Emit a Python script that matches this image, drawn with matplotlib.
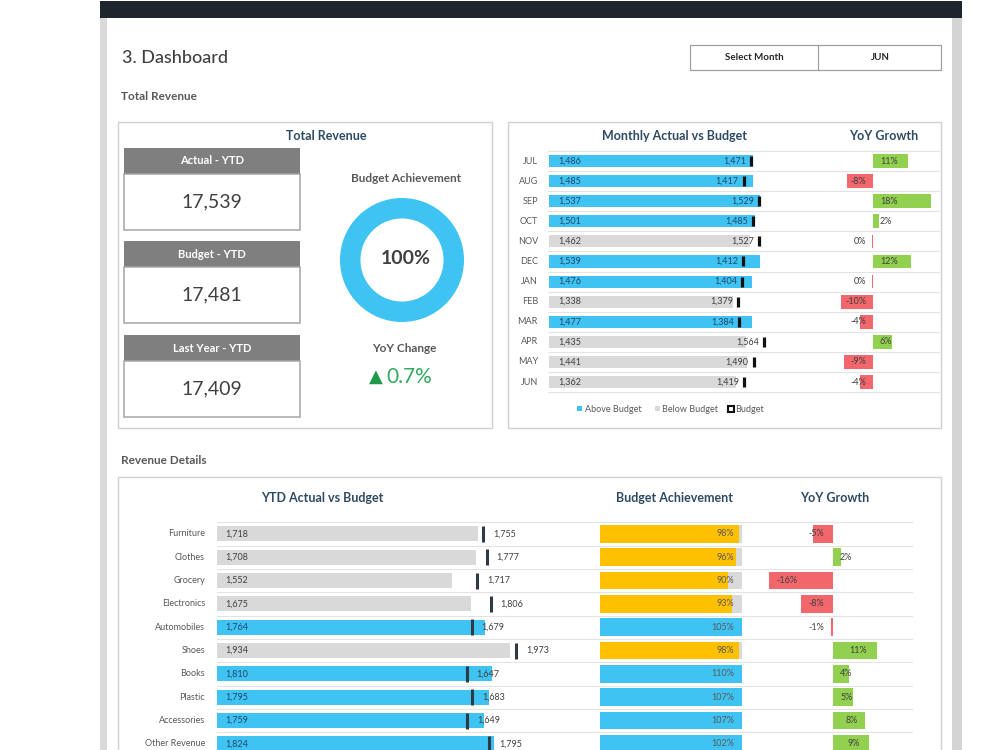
import matplotlib
matplotlib.use('Agg')
import matplotlib.pyplot as plt
from matplotlib.patches import Rectangle

plt.rcParams['font.family'] = ['Lato', 'DejaVu Sans']

# ---------------- data ----------------
select_month = 'JUN'
actual_ytd = 17539
budget_ytd = 17481
last_year_ytd = 17409

months = ['JUL', 'AUG', 'SEP', 'OCT', 'NOV', 'DEC', 'JAN', 'FEB', 'MAR', 'APR', 'MAY', 'JUN']
month_actual = [1486, 1485, 1537, 1501, 1462, 1539, 1476, 1338, 1477, 1435, 1441, 1362]
month_budget = [1471, 1417, 1529, 1485, 1527, 1412, 1404, 1379, 1384, 1564, 1490, 1419]
month_yoy = [11, -8, 18, 2, 0, 12, 0, -10, -4, 6, -9, -4]

categories = ['Furniture', 'Clothes', 'Grocery', 'Electronics', 'Automobiles', 'Shoes',
              'Books', 'Plastic', 'Accessories', 'Other Revenue']
cat_actual = [1718, 1708, 1552, 1675, 1764, 1934, 1810, 1795, 1759, 1824]
cat_budget = [1755, 1777, 1717, 1806, 1679, 1973, 1647, 1683, 1649, 1795]
cat_yoy = [-5, 2, -16, -8, -1, 11, 4, 5, 8, 9]

# ---------------- style ----------------
BLUE = '#3EC3F2'
GRAY = '#D9D9D9'
YELLOW = '#FFC000'
GREEN = '#92D050'
RED = '#F2676C'
NAVY = '#2D4A63'
DGRAY = '#404040'
MGRAY = '#595959'
GRID = '#E3E3E3'
BORDER = '#D0D0D0'

W, H = 1000, 750
fig = plt.figure(figsize=(10, 7.5), dpi=100)
fig.patch.set_facecolor('white')
bg = fig.add_axes([0, 0, 1, 1])
bg.set_xlim(0, W)
bg.set_ylim(H, 0)
bg.axis('off')


def rect(x0, y0, x1, y1, fc='none', ec='none', lw=0.0, z=1):
    bg.add_patch(Rectangle((x0, y0), x1 - x0, y1 - y0, facecolor=fc,
                           edgecolor=ec, linewidth=lw, zorder=z))


def txt(x, y, s, size=7, color=DGRAY, weight='normal', ha='left', va='center', z=5, **kw):
    bg.text(x, y, s, fontsize=size, color=color, fontweight=weight,
            ha=ha, va=va, zorder=z, **kw)


def px_axes(x0, y0, x1, y1):
    ax = fig.add_axes([x0 / W, 1 - y1 / H, (x1 - x0) / W, (y1 - y0) / H])
    ax.axis('off')
    ax.patch.set_alpha(0)
    return ax


# ---------------- page frame ----------------
rect(100, 0, 962, 750, fc='white', z=0)
rect(100, 1, 962, 18, fc='#1E252E', z=1)
rect(100, 18, 107, 750, fc='#D9D9D9', z=1)
rect(952, 18, 962, 750, fc='#D4D4D4', z=1)

txt(122, 58, '3. Dashboard', size=13, color=DGRAY, weight='medium')
txt(121, 97, 'Total Revenue', size=8.5, color=MGRAY, weight='bold')
txt(121, 460, 'Revenue Details', size=8.5, color=MGRAY, weight='bold')

# select month box
rect(690, 45, 941, 70, fc='white', ec='#A0A0A0', lw=0.9, z=2)
bg.plot([818, 818], [45, 70], color='#A0A0A0', lw=0.9, zorder=3)
txt(754, 58, 'Select Month', size=7, color='#262626', weight='bold', ha='center')
txt(880, 58, select_month, size=7, color='#262626', weight='bold', ha='center')

# panels
rect(118, 122, 492, 428, fc='white', ec=BORDER, lw=1.0, z=1)
rect(508, 122, 941, 428, fc='white', ec=BORDER, lw=1.0, z=1)
rect(118, 477, 941, 760, fc='white', ec=BORDER, lw=1.0, z=1)

# ---------------- KPI cards ----------------
txt(326, 136, 'Total Revenue', size=9, color=NAVY, weight='bold', ha='center')
cards = [('Actual - YTD', actual_ytd, 148), ('Budget - YTD', budget_ytd, 241),
         ('Last Year - YTD', last_year_ytd, 335)]
for title, val, y0 in cards:
    rect(124, y0, 300, y0 + 26, fc='#7F7F7F', z=2)
    rect(124, y0 + 26, 300, y0 + 82, fc='white', ec='#A6A6A6', lw=1.1, z=2)
    txt(212, y0 + 13, title, size=8, color='white', weight='bold', ha='center')
    txt(212, y0 + 54, f'{val:,}', size=14, color=DGRAY, ha='center')

# donut
achv = actual_ytd / budget_ytd * 100
txt(406, 179, 'Budget Achievement', size=8.5, color=MGRAY, weight='bold', ha='center')
dax = px_axes(340, 198, 464, 322)
filled = min(achv, 100)
dax.pie([filled, 100 - filled], colors=[BLUE, '#EDEDED'], startangle=90, counterclock=False,
        radius=1.0, wedgeprops=dict(width=0.33, edgecolor='none'))
dax.set_xlim(-1, 1)
dax.set_ylim(-1, 1)
dax.set_aspect('equal')
txt(406, 259, f'{achv:.0f}%', size=14, color=DGRAY, weight='bold', ha='center')

yoy_total = (actual_ytd - last_year_ytd) / last_year_ytd * 100
txt(404, 349, 'YoY Change', size=8.5, color=MGRAY, weight='bold', ha='center')
txt(383, 377, '▲' if yoy_total >= 0 else '▼', size=13, color='#1E9B48', ha='right',
    family='DejaVu Sans')
txt(386, 377, f'{abs(yoy_total):.1f}%', size=15, color='#2FAA5F', ha='left')

# ---------------- monthly chart ----------------
n = len(months)
row_top, row_h = 151, 20.09
for k in range(n + 1):
    y = row_top + k * row_h
    bg.plot([548, 939], [y, y], color=GRID, lw=0.8, zorder=2)

txt(675, 136, 'Monthly Actual vs Budget', size=9, color=NAVY, weight='bold', ha='center')
txt(884, 136, 'YoY Growth', size=9, color=NAVY, weight='bold', ha='center')

mx0, mscale = 549, 0.1373
max_ = px_axes(mx0, row_top, 790, row_top + n * row_h)
max_.set_xlim(0, (790 - mx0) / mscale)
max_.set_ylim(n - 0.5, -0.5)
for i, (m, a, b) in enumerate(zip(months, month_actual, month_budget)):
    above = a >= b
    max_.barh(i, a, height=0.6, color=BLUE if above else GRAY, zorder=2)
    max_.plot([b], [i], marker='|', markersize=7.5, mew=2.3, color='#111111', zorder=4)
    lc = '#24466A' if above else DGRAY
    max_.annotate(f'{a:,}', xy=(0, i), xytext=(6.5, 0), textcoords='offset points',
                  ha='left', va='center', fontsize=6.5, color=lc, zorder=5)
    max_.annotate(f'{b:,}', xy=(b, i), xytext=(-3.5, 0), textcoords='offset points',
                  ha='right', va='center', fontsize=6.5, color=lc, zorder=5)
    max_.text(-11 / mscale, i, m, ha='right', va='center', fontsize=6.5, color=MGRAY,
              clip_on=False)

# monthly YoY
yx0, yscale = 873, 3.2
yax = px_axes(820, row_top, 940, row_top + n * row_h)
yax.set_xlim((820 - yx0) / yscale, (940 - yx0) / yscale)
yax.set_ylim(n - 0.5, -0.5)
for i, v in enumerate(month_yoy):
    col = GREEN if v > 0 else RED
    w = v if v != 0 else -0.3
    yax.barh(i, w, height=0.68, color=col, zorder=2)
    if v > 0:
        yax.annotate(f'{v}%', xy=(0, i), xytext=(5, 0), textcoords='offset points',
                     ha='left', va='center', fontsize=6.5, color=DGRAY, zorder=5)
    else:
        yax.annotate(f'{v}%', xy=(0, i), xytext=(-5, 0), textcoords='offset points',
                     ha='right', va='center', fontsize=6.5, color=DGRAY, zorder=5)

# legend
rect(577, 406, 582, 411, fc=BLUE, z=3)
txt(585, 409, 'Above Budget', size=6.5, color=MGRAY)
rect(655, 406, 660, 411, fc=GRAY, z=3)
txt(662, 409, 'Below Budget', size=6.5, color=MGRAY)
rect(727.5, 405.5, 733.5, 411.5, fc='white', ec='#111111', lw=1.5, z=3)
txt(735, 409, 'Budget', size=6.5, color=MGRAY)

# ---------------- bottom section ----------------
nc = len(categories)
brow_top, brow_h = 522.3, 23.33
for k in range(nc + 1):
    y = brow_top + k * brow_h
    bg.plot([217, 912], [y, y], color=GRID, lw=0.8, zorder=2)

txt(322, 498, 'YTD Actual vs Budget', size=9, color=NAVY, weight='bold', ha='center')
txt(674, 498, 'Budget Achievement', size=9, color=NAVY, weight='bold', ha='center')
txt(835, 498, 'YoY Growth', size=9, color=NAVY, weight='bold', ha='center')

bx0, bscale = 217, 0.1517
bax = px_axes(bx0, brow_top, 560, brow_top + nc * brow_h)
bax.set_xlim(0, (560 - bx0) / bscale)
bax.set_ylim(nc - 0.5, -0.5)
for i, (c, a, b) in enumerate(zip(categories, cat_actual, cat_budget)):
    above = a >= b
    bax.barh(i, a, height=0.64, color=BLUE if above else GRAY, zorder=2)
    bax.plot([b], [i], marker='|', markersize=11, mew=2.2, color='#2E3A46', zorder=4)
    lc = '#24466A' if above else DGRAY
    bax.annotate(f'{a:,}', xy=(0, i), xytext=(6, 0), textcoords='offset points',
                 ha='left', va='center', fontsize=6.5, color=lc, zorder=5)
    bax.annotate(f'{b:,}', xy=(b, i), xytext=(7, 0), textcoords='offset points',
                 ha='left', va='center', fontsize=6.5, color=DGRAY, zorder=5)
    bax.text(-12 / bscale, i, c, ha='right', va='center', fontsize=6.5, color=MGRAY,
             clip_on=False)

# budget achievement
ax0, ascale = 600, 1.42
aax = px_axes(ax0, brow_top, 760, brow_top + nc * brow_h)
aax.set_xlim(0, (760 - ax0) / ascale)
aax.set_ylim(nc - 0.5, -0.5)
for i, (a, b) in enumerate(zip(cat_actual, cat_budget)):
    pct = a / b * 100
    aax.barh(i, 100, height=0.76, color=GRAY, zorder=1)
    aax.barh(i, min(pct, 100), height=0.76, color=BLUE if pct >= 100 else YELLOW, zorder=2)
    aax.annotate(f'{pct:.0f}%', xy=(100, i), xytext=(-5.5, 0), textcoords='offset points',
                 ha='right', va='center', fontsize=6.5, color='#5A5A5A', zorder=5)

# bottom YoY
gx0, gscale = 833, 4.0
gax = px_axes(760, brow_top, 912, brow_top + nc * brow_h)
gax.set_xlim((760 - gx0) / gscale, (912 - gx0) / gscale)
gax.set_ylim(nc - 0.5, -0.5)
for i, v in enumerate(cat_yoy):
    col = GREEN if v > 0 else RED
    w = v if abs(v) > 1 else (0.5 if v > 0 else -0.5)
    gax.barh(i, w, height=0.76, color=col, zorder=2)
    if v > 0:
        cx = max(3.3, 0.58 * v)
    else:
        cx = -4.1 if abs(v) < 10 else 0.72 * v
    gax.text(cx, i, f'{v}%', ha='center', va='center', fontsize=6.5, color=DGRAY, zorder=5)

fig.savefig('out.png', dpi=100, facecolor='white')
